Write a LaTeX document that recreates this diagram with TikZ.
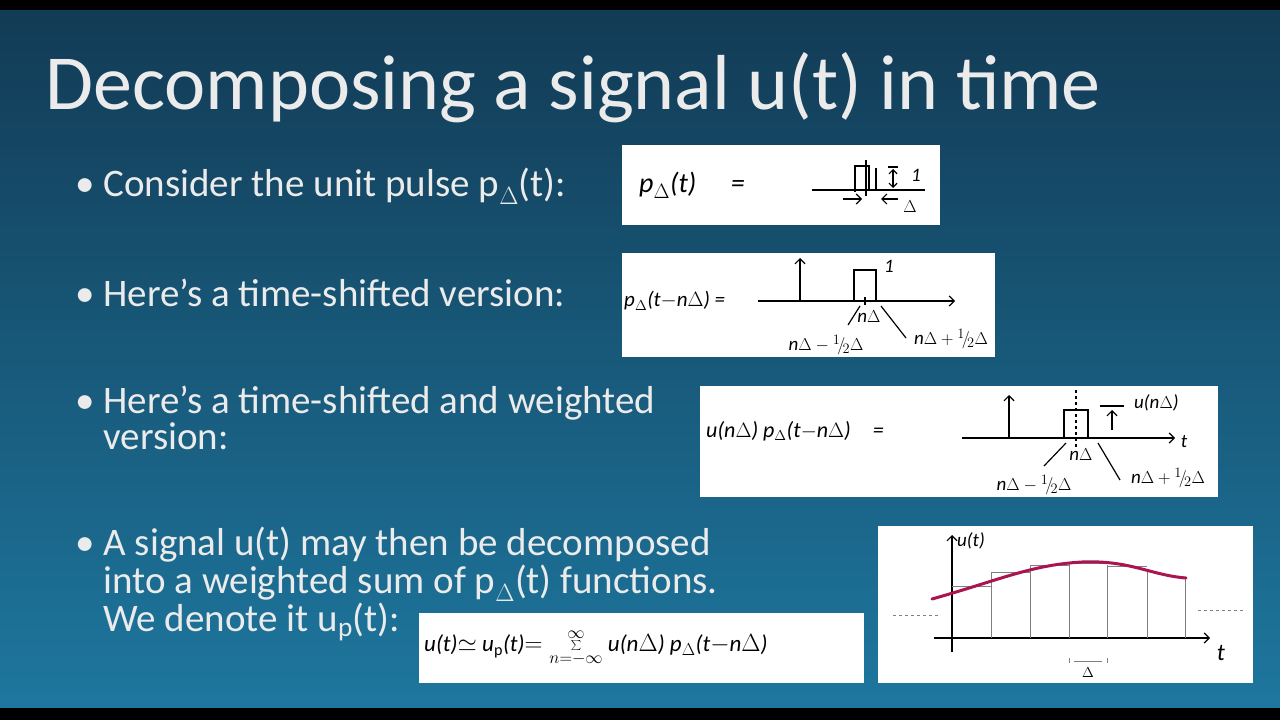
\documentclass[tikz,border=0pt]{standalone}
\usepackage{fontspec}
\setmainfont{Carlito}
\usetikzlibrary{arrows.meta}
\definecolor{curve}{RGB}{170,20,80}
\definecolor{bgtop}{RGB}{18,58,84}
\definecolor{bgbot}{RGB}{30,120,160}
\newcommand{\hf}{{}^1\!/\!_2}
\begin{document}
\begin{tikzpicture}[x=1pt,y=-1pt,
  wbox/.style={fill=white,draw=none},
  bul/.style={anchor=west,text=white!92!black,font=\fontsize{39}{36}\selectfont,align=left,inner sep=0pt},
  hw/.style={font=\fontsize{28}{30}\selectfont\itshape,text=black,inner sep=1pt},
  hs/.style={font=\fontsize{19}{21}\selectfont\itshape,text=black,inner sep=0pt},
  ink/.style={line width=1.2pt,black},
  ar/.style={ink,-{Straight Barb[length=5pt]}}]
\useasboundingbox (0,0) rectangle (1280,720);
\fill[top color=bgtop,bottom color=bgbot] (0,0) rectangle (1280,720);
\fill[black] (0,0) rectangle (1280,10);
\fill[black] (0,708) rectangle (1280,720);
\node[anchor=west,text=white!92!black,font=\fontsize{78}{80}\selectfont] (title) at (42,88) {Decomposing a signal u(t) in time};
\node[bul] (b1) at (75,186) {• Consider the unit pulse p$_{\Delta}$(t):};
\node[bul] (b2) at (75,293) {• Here’s a time-shifted version:};
\node[bul] (b3) at (75,418) {• Here’s a time-shifted and weighted\\\phantom{• }version:};
\node[bul] (b4) at (75,545) {• A signal u(t) may then be decomposed};
\node[bul] (b4b) at (75,583) {\phantom{• }into a weighted sum of p$_{\Delta}$(t) functions.};
\node[bul] (b4c) at (75,622) {\phantom{• }We denote it u$_\mathrm{p}$(t):};
% box 1
\fill[wbox] (622,145) rectangle (940,225);
\node[hw,anchor=west] (p1) at (638,185) {p$_\Delta$(t)\quad\ =};
\draw[ink] (812,190) -- (925,190);
\draw[ink] (855,192) -- (855,166) -- (870,166);
\draw[ink] (869,166) -- (869,190);
\draw[ink] (866,160) -- (866,196);
\draw[ink] (876,168) -- (876,190);
\draw[ink] (888,167) -- (898,167);
\draw[ink,{Straight Barb[length=4pt]}-{Straight Barb[length=4pt]}] (893,169) -- (893,188);
\node[hs] (one1) at (916,175) {1};
\draw[ar] (843,199) -- (862,199);
\draw[ar] (898,199) -- (881,199);
\node[hs] (d1) at (910,207) {$\Delta$};
% box 2
\fill[wbox] (622,253) rectangle (995,357);
\node[hw,anchor=west,font=\fontsize{21}{23}\selectfont\itshape] (p2) at (623,301) {p$_\Delta$(t$-$n$\Delta$)\ =};
\draw[ar] (758,301) -- (955,301);
\draw[ar] (800,301) -- (800,258);
\draw[ink] (854,301) -- (854,270) -- (876,270) -- (876,301);
\draw[ink] (865,297) -- (865,305);
\node[hs] (one2) at (889,266) {1};
\draw[ink] (860,306) -- (848,325);
\draw[ink] (881,306) -- (906,338);
\node[hs] (nd2) at (869,317) {n$\Delta$};
\node[hs] (l2) at (826,345) {n$\Delta-\hf\Delta$};
\node[hs] (r2) at (951,339) {n$\Delta+\hf\Delta$};
% box 3
\fill[wbox] (700,386) rectangle (1218,497);
\node[hw,anchor=west,font=\fontsize{22}{24}\selectfont\itshape] (p3) at (705,431) {u(n$\Delta$) p$_\Delta$(t$-$n$\Delta$)\quad =};
\draw[ar] (962,438) -- (1175,438);
\node[hs] (t3) at (1184,442) {t};
\draw[ar] (1009,438) -- (1009,395);
\draw[ink] (1064,438) -- (1064,410) -- (1088,410) -- (1088,438);
\draw[ink,dashed] (1076,390) -- (1076,448);
\draw[ink] (1100,406) -- (1124,406);
\draw[ar] (1112,430) -- (1112,410);
\node[hs,anchor=west] (u3) at (1134,403) {u(n$\Delta$)};
\draw[ink] (1066,443) -- (1044,466);
\draw[ink] (1098,443) -- (1120,480);
\node[hs] (nd3) at (1081,455) {n$\Delta$};
\node[hs] (l3) at (1034,485) {n$\Delta-\hf\Delta$};
\node[hs] (r3) at (1168,478) {n$\Delta+\hf\Delta$};
% box 4
\fill[wbox] (878,526) rectangle (1253,683);
\draw[ar] (952,652) -- (952,535);
\node[hs,anchor=west] (ut) at (957,541) {u(t)};
\draw[ar] (934,638) -- (1210,638);
\node[hw,font=\fontsize{24}{26}\selectfont\itshape] (t4) at (1221,653) {t};
\foreach \x/\h in {991/572,1030/565,1069/562,1107/565,1147/569,1185/578}{\draw[gray,line width=0.8pt] (\x,638) -- (\x,\h);}
\draw[gray,line width=0.8pt] (952,586) -- (991,586) (991,572)--(1030,572)--(1030,565)--(1069,565) (1107,566)--(1147,566);
\draw[gray,line width=0.8pt] (1069,563)--(1107,563);
\draw[gray,line width=0.8pt] (1069,658)--(1069,663) (1107,658)--(1107,663) (1074,661)--(1102,661);
\node[hs,font=\fontsize{14}{16}\selectfont] (d4) at (1088,673) {$\Delta$};
\draw[gray,dashed,line width=0.8pt] (893,615) -- (940,615);
\draw[gray,dashed,line width=0.8pt] (1198,610) -- (1246,610);
\draw[line width=3pt,curve,line cap=round] (932,599) .. controls (1000,580) and (1030,565) .. (1082,562) .. controls (1130,560) and (1150,575) .. (1186,578);
% box 5
\fill[wbox] (419,613) rectangle (864,683);
\node[hw,anchor=west,font=\fontsize{23}{25}\selectfont\itshape,inner sep=0pt] (eq) at (424,648) {u(t)$\simeq$ u$_\mathrm p$(t)$=\sum\limits_{n=-\infty}^{\infty}$ u(n$\Delta$) p$_\Delta$(t$-$n$\Delta$)};
\end{tikzpicture}
\end{document}
